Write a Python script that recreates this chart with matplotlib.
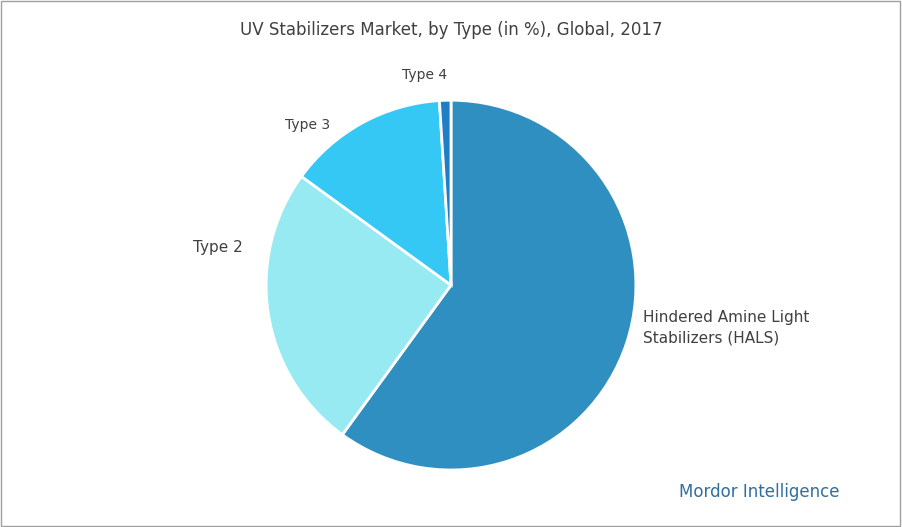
import matplotlib.pyplot as plt
from matplotlib.patches import Rectangle

labels = ["Hindered Amine Light\nStabilizers (HALS)", "Type 2", "Type 3", "Type 4"]
values = [60, 25, 14, 1]
colors = ["#2E8FC0", "#98EAF2", "#36C8F5", "#1F7FC4"]

fig = plt.figure(figsize=(9.02, 5.27), dpi=100)
fig.patches.append(Rectangle((0.001, 0.002), 0.997, 0.996, transform=fig.transFigure,
                             fill=False, edgecolor="#A0A0A0", lw=1))
ax = fig.add_axes([0.294, 0.106, 0.412, 0.706])
ax.pie(values, colors=colors, startangle=90, counterclock=False,
       wedgeprops=dict(edgecolor="white", linewidth=2))
ax.set_aspect("equal")
ax.set_xlim(-1.005, 1.005)
ax.set_ylim(-1.005, 1.005)

fig.text(0.5, 0.943, "UV Stabilizers Market, by Type (in %), Global, 2017",
         ha="center", va="center", fontsize=12, color="#404040")
fig.text(0.713, 0.378, labels[0], ha="left", va="center", fontsize=11,
         color="#404040", linespacing=1.5)
fig.text(0.242, 0.530, labels[1], ha="center", va="center", fontsize=11, color="#404040")
fig.text(0.341, 0.762, labels[2], ha="center", va="center", fontsize=10, color="#404040")
fig.text(0.471, 0.857, labels[3], ha="center", va="center", fontsize=10, color="#404040")
fig.text(0.842, 0.066, "Mordor Intelligence", ha="center", va="center",
         fontsize=12, color="#2E6FA0")
plt.savefig("out.png", dpi=100)
